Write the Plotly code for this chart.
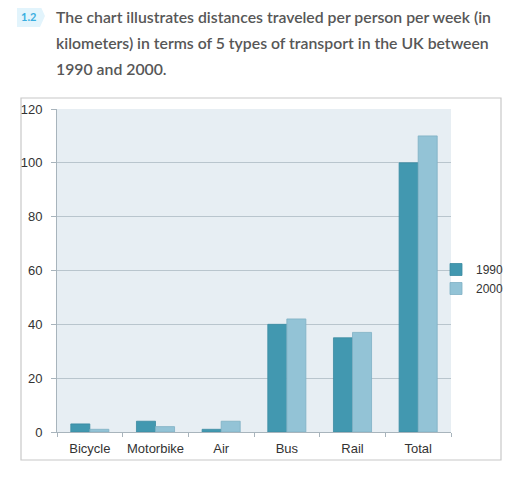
import plotly.graph_objects as go

categories = ["Bicycle", "Motorbike", "Air", "Bus", "Rail", "Total"]
km_1990 = [3, 4, 1, 40, 35, 100]
km_2000 = [1, 2, 4, 42, 37, 110]
y_ticks = [0, 20, 40, 60, 80, 100, 120]

title_lines = [
    "The chart illustrates distances traveled per person per week (in",
    "kilometers) in terms of 5 types of transport in the UK between",
    "1990 and 2000.",
]

# the page body has an 8px margin, so work in screen pixels and shift
OFF = 8
W, H = 512 - 2 * OFF, 477 - 2 * OFF
L, T = 57 - OFF, 109 - OFF
R, B = W - (451 - OFF), H - (432 - OFF)
pw, ph = W - L - R, H - T - B


def px_x(x):
    return (x - OFF - L) / pw


def px_y(y):
    return (H - B - (y - OFF)) / ph


fig = go.Figure()
fig.add_trace(go.Bar(
    x=categories, y=km_1990, name="1990",
    marker=dict(color="#4298b0", line=dict(color="#3a8aa1", width=0.8)),
))
fig.add_trace(go.Bar(
    x=categories, y=km_2000, name="2000",
    marker=dict(color="#93c3d6", line=dict(color="#7fb0c4", width=0.8)),
))

# title text above the chart frame
for i, line in enumerate(title_lines):
    fig.add_annotation(
        text=line, x=px_x(54), y=px_y(16 + 26.5 * i),
        xref="paper", yref="paper", xanchor="left", yanchor="middle",
        showarrow=False,
        font=dict(family="Lato", size=15.8, color="#575757", weight=600),
    )

# "1.2" badge (tag shape)
pts = [(17, 5), (40, 5), (45, 16), (40, 27), (17, 27)]
path = "M " + " L ".join(f"{px_x(x):.4f},{px_y(y):.4f}" for x, y in pts) + " Z"
fig.add_shape(type="path", xref="paper", yref="paper", path=path,
              fillcolor="#e2f4fc", line=dict(width=0), layer="below")
fig.add_annotation(
    text="1.2", x=px_x(29), y=px_y(16), xref="paper", yref="paper",
    xanchor="center", yanchor="middle",
    showarrow=False, font=dict(family="Lato", size=11, color="#3aaee0", weight=700),
)

# chart frame
fig.add_shape(type="rect", xref="paper", yref="paper",
              x0=px_x(21), x1=px_x(501), y0=px_y(460), y1=px_y(98),
              line=dict(color="#c8c8c8", width=1.2), layer="below")

fig.update_layout(
    width=W, height=H,
    margin=dict(l=L, r=R, t=T, b=B, autoexpand=False),
    paper_bgcolor="white",
    plot_bgcolor="#e7eef3",
    barmode="group",
    bargap=0.42,
    bargroupgap=0,
    font=dict(family="Liberation Sans", size=13, color="#333333"),
    legend=dict(x=px_x(436), y=px_y(279), xanchor="left", yanchor="middle",
                font=dict(size=12), itemwidth=30, borderwidth=0,
                bgcolor="rgba(0,0,0,0)"),
    showlegend=True,
)
fig.update_xaxes(
    type="category", tickson="boundaries", ticks="outside", ticklen=4,
    tickcolor="#a8b4bc", showline=True, linecolor="#a8b4bc", showgrid=False,
    tickangle=0, ticklabelstandoff=4,
)
fig.update_yaxes(
    range=[0, 120], tickvals=y_ticks, ticks="outside", ticklen=5,
    tickcolor="#a8b4bc", showline=True, linecolor="#a8b4bc",
    gridcolor="#b9c5cd", gridwidth=1, zeroline=False, ticklabelstandoff=6,
)

fig.write_html("out.html")
